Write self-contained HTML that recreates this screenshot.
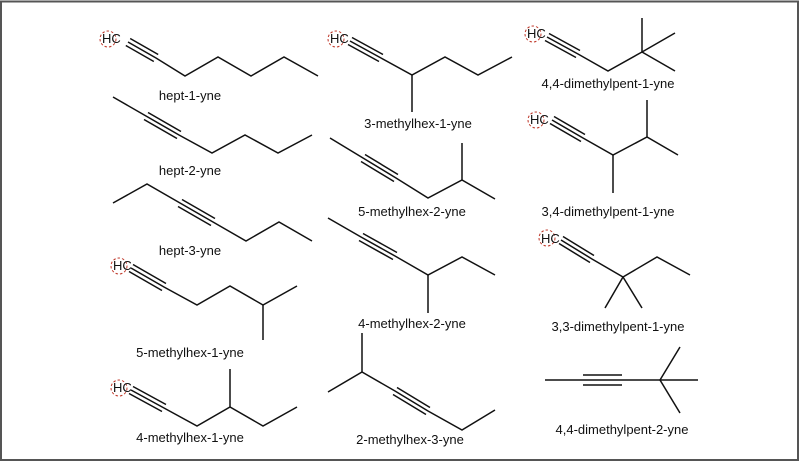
<!DOCTYPE html>
<html><head><meta charset="utf-8"><style>
html,body{margin:0;padding:0;background:#fff}
svg{display:block}
text{font-family:"Liberation Sans",Arial,sans-serif;font-size:13px;fill:#111}
</style></head><body>
<svg width="800" height="462" viewBox="0 0 800 462" xmlns="http://www.w3.org/2000/svg">
<rect x="1" y="1.5" width="797" height="458.5" fill="#fff" stroke="#555" stroke-width="2"/>
<g fill="none" stroke="#111" stroke-width="1.5" stroke-linejoin="miter">
<polyline points="128,42 156,58 185,76 218,57 251,76 284,57 318,76"/>
<line x1="125.8" y1="45.5" x2="153.8" y2="61.5"/><line x1="130.2" y1="38.5" x2="158.2" y2="54.5"/>
<polyline points="113,97 146,116 179,135 212,153 245,135 278,153 312,135"/>
<line x1="144" y1="119.5" x2="177" y2="138.5"/><line x1="148" y1="112.5" x2="181" y2="131.5"/>
<polyline points="113,203 147,184 180,203 213,222 246,241 279,222 312,241"/>
<line x1="178" y1="206.5" x2="211" y2="225.5"/><line x1="182" y1="199.5" x2="215" y2="218.5"/>
<polyline points="131,268 164,287 197,305 230,286 263,305 297,286"/>
<line x1="263" y1="305" x2="263" y2="340"/>
<line x1="129" y1="271.5" x2="162" y2="290.5"/><line x1="133" y1="264.5" x2="166" y2="283.5"/>
<polyline points="131,390 164,408 197,426 230,407 263,426 297,407"/>
<line x1="230" y1="407" x2="230" y2="369"/>
<line x1="129" y1="393.5" x2="162" y2="411.5"/><line x1="133" y1="386.5" x2="166" y2="404.5"/>
<polyline points="350,41 381,58 412,75 445,57 478,75 512,57"/>
<line x1="412" y1="75" x2="412" y2="112"/>
<line x1="348" y1="44.5" x2="379" y2="61.5"/><line x1="352" y1="37.5" x2="383" y2="54.5"/>
<polyline points="330,138 363,158 396,178 428,198 462,180 495,199"/>
<line x1="462" y1="180" x2="462" y2="143"/>
<line x1="361" y1="161.5" x2="394" y2="181.5"/><line x1="365" y1="154.5" x2="398" y2="174.5"/>
<polyline points="328,218 361,237 395,256 428,275 462,257 495,275"/>
<line x1="428" y1="275" x2="428" y2="313"/>
<line x1="359" y1="240.5" x2="393" y2="259.5"/><line x1="363" y1="233.5" x2="397" y2="252.5"/>
<polyline points="328,392 362,372 395,391 428,411 462,430 495,410"/>
<line x1="362" y1="372" x2="362" y2="333"/>
<line x1="393" y1="394.5" x2="426" y2="414.5"/><line x1="397" y1="387.5" x2="430" y2="407.5"/>
<polyline points="547,37 578,54 608,71 642,52 675,33"/>
<line x1="642" y1="52" x2="642" y2="18"/><line x1="642" y1="52" x2="675" y2="71"/>
<line x1="545" y1="40.5" x2="576" y2="57.5"/><line x1="549" y1="33.5" x2="580" y2="50.5"/>
<polyline points="552,120 583,138 613,155 647,137 678,155"/>
<line x1="613" y1="155" x2="613" y2="193"/><line x1="647" y1="137" x2="647" y2="100"/>
<line x1="550" y1="123.5" x2="581" y2="141.5"/><line x1="554" y1="116.5" x2="585" y2="134.5"/>
<polyline points="561,240 592,259 623,277 657,257 690,275"/>
<line x1="623" y1="277" x2="605" y2="308"/><line x1="623" y1="277" x2="642" y2="308"/>
<line x1="559" y1="243.5" x2="590" y2="262.5"/><line x1="563" y1="236.5" x2="594" y2="255.5"/>
<line x1="545" y1="380" x2="698" y2="380"/>
<line x1="583" y1="375" x2="622" y2="375"/><line x1="583" y1="385" x2="622" y2="385"/>
<line x1="660" y1="380" x2="680" y2="347"/><line x1="660" y1="380" x2="680" y2="413"/>
</g>
<g fill="none" stroke="#c0392b" stroke-width="1" stroke-dasharray="2.5,2">
<circle cx="108" cy="39" r="8"/>
<circle cx="119" cy="266" r="8"/>
<circle cx="119" cy="388" r="8"/>
<circle cx="336" cy="39" r="8"/>
<circle cx="533" cy="34" r="8"/>
<circle cx="536" cy="120" r="8"/>
<circle cx="547" cy="238" r="8"/>
</g>
<text x="102" y="43">HC</text>
<text x="113" y="270">HC</text>
<text x="113" y="392">HC</text>
<text x="330" y="43">HC</text>
<text x="527" y="38">HC</text>
<text x="530" y="124">HC</text>
<text x="541" y="243">HC</text>
<g text-anchor="middle">
<text x="190" y="100">hept-1-yne</text>
<text x="190" y="175">hept-2-yne</text>
<text x="190" y="255">hept-3-yne</text>
<text x="190" y="357">5-methylhex-1-yne</text>
<text x="190" y="442">4-methylhex-1-yne</text>
<text x="418" y="128">3-methylhex-1-yne</text>
<text x="412" y="216">5-methylhex-2-yne</text>
<text x="412" y="328">4-methylhex-2-yne</text>
<text x="410" y="444">2-methylhex-3-yne</text>
<text x="608" y="88">4,4-dimethylpent-1-yne</text>
<text x="608" y="216">3,4-dimethylpent-1-yne</text>
<text x="618" y="331">3,3-dimethylpent-1-yne</text>
<text x="622" y="434">4,4-dimethylpent-2-yne</text>
</g>
</svg>
</body></html>
